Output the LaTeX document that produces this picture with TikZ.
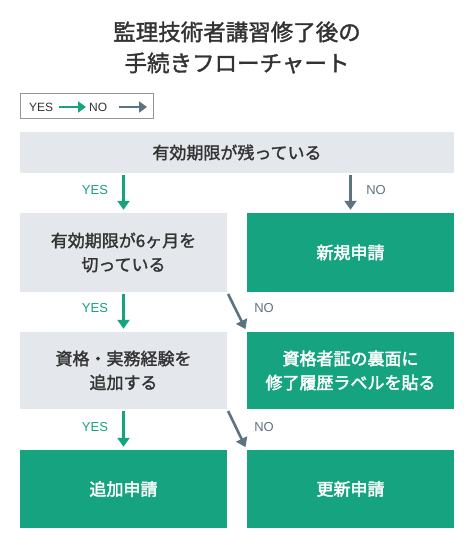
\documentclass[tikz,border=0pt]{standalone}
\usepackage{fontspec}
\newfontfamily\jp[FakeBold=1.6]{Noto Sans CJK JP}
\newfontfamily\jpg[FakeBold=2.3]{Noto Sans CJK JP}
\newfontfamily\lat{Liberation Sans}
\usetikzlibrary{arrows.meta}
\definecolor{gbox}{RGB}{228,231,235}
\definecolor{grn}{RGB}{22,163,128}
\definecolor{arrgray}{RGB}{94,115,128}
\definecolor{txt}{RGB}{51,51,51}
\definecolor{legb}{RGB}{150,150,150}
\tikzset{
  graybox/.style={fill=gbox,draw=none,inner sep=0pt,text=txt,font=\jp\fontsize{17}{24}\selectfont,align=center},
  greenbox/.style={fill=grn,draw=none,inner sep=0pt,text=white,font=\jpg\fontsize{17}{24}\selectfont,align=center},
  yesarr/.style={draw=grn,line width=2.6pt,-{Triangle[width=12pt,length=9pt]}},
  noarr/.style={draw=arrgray,line width=2.6pt,-{Triangle[width=12pt,length=9pt]}},
  yeslab/.style={text=grn,font=\lat\fontsize{13}{15}\selectfont,inner sep=0pt},
  nolab/.style={text=arrgray,font=\lat\fontsize{13}{15}\selectfont,inner sep=0pt},
}
\begin{document}
\begin{tikzpicture}[x=1pt,y=-1pt]
\useasboundingbox[fill=white] (0,0) rectangle (474,548);
% title
\node[text=txt,font=\jp\fontsize{22.5}{31}\selectfont,align=center] (title) at (237,47.5) {監理技術者講習修了後の\\手続きフローチャート};
% legend
\node[draw=legb,line width=1pt,minimum width=133pt,minimum height=25pt,inner sep=0pt] (leg) at (86.5,106.5) {};
\node[text=txt,font=\lat\fontsize{12}{14}\selectfont,inner sep=0pt,anchor=west] (ly) at (29,107) {YES};
\coordinate (lya) at (59,107);
\coordinate (lyb) at (86,107);
\draw[yesarr,-{Triangle[width=11pt,length=8pt]}] (lya) -- (lyb);
\node[text=txt,font=\lat\fontsize{12}{14}\selectfont,inner sep=0pt,anchor=west] (ln) at (89,107) {NO};
\coordinate (lna) at (119,107);
\coordinate (lnb) at (147,107);
\draw[noarr,-{Triangle[width=11pt,length=8pt]}] (lna) -- (lnb);
% boxes
\node[graybox,minimum width=434pt,minimum height=41pt] (b1) at (237,152.5) {有効期限が残っている};
\node[graybox,minimum width=207pt,minimum height=79pt] (b2l) at (123.5,252.5) {有効期限が6ヶ月を\\切っている};
\node[greenbox,minimum width=207pt,minimum height=79pt] (b2r) at (350.5,252.5) {新規申請};
\node[graybox,minimum width=207pt,minimum height=77pt] (b3l) at (123.5,370.5) {資格・実務経験を\\追加する};
\node[greenbox,minimum width=207pt,minimum height=77pt] (b3r) at (350.5,370.5) {資格者証の裏面に\\修了履歴ラベルを貼る};
\node[greenbox,minimum width=207pt,minimum height=78pt] (b4l) at (123.5,489) {追加申請};
\node[greenbox,minimum width=207pt,minimum height=78pt] (b4r) at (350.5,489) {更新申請};
% arrows
\draw[yesarr,shorten <=2pt,shorten >=3pt] (b2l.north |- b1.south) -- (b2l.north);
\draw[noarr,shorten <=2pt,shorten >=3pt] (b2r.north |- b1.south) -- (b2r.north);
\draw[yesarr,shorten <=2pt,shorten >=3pt] (b2l.south) -- (b3l.north);
\draw[noarr,shorten <=2pt,shorten >=3pt] (b2l.south east) -- (b3r.north west);
\draw[yesarr,shorten <=2pt,shorten >=3pt] (b3l.south) -- (b4l.north);
\draw[noarr,shorten <=2pt,shorten >=3pt] (b3l.south east) -- (b4r.north west);
% labels
\node[yeslab] (y1) at (95,190) {YES};
\node[nolab] (n1) at (376,190) {NO};
\node[yeslab] (y2) at (95,308) {YES};
\node[nolab] (n2) at (264,308) {NO};
\node[yeslab] (y3) at (95,427) {YES};
\node[nolab] (n3) at (264,427) {NO};
\end{tikzpicture}
\end{document}
